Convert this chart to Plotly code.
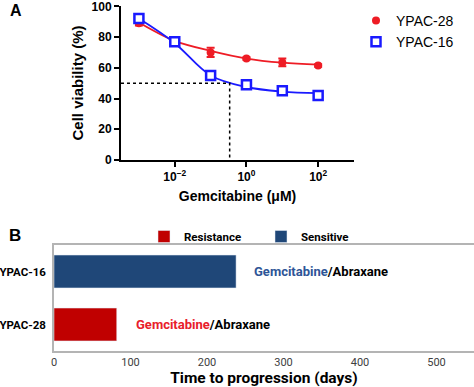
import plotly.graph_objects as go

# ---------------- Panel A data ----------------
conc_uM = [0.001, 0.01, 0.1, 1, 10, 100]
ypac28_mean = [89, 77, 70, 66, 63.5, 61.5]
ypac28_err = [1.5, 1.0, 3.0, 0.8, 2.5, 0.8]
ypac16_mean = [92, 77, 55, 49, 45, 42]
ypac16_err = [1.2, 1.5, 0.5, 1.2, 0.6, 0.6]
ypac28_fit = [89.5, 77.5, 71, 66, 63.3, 62]
ypac16_fit = [92, 76, 55, 47.5, 44.5, 43.5]
ic50_uM = 0.34
ic50_level = 50

# ---------------- Panel B data ----------------
lines_b = ["YPAC-28", "YPAC-16"]
resist_days = [82, None]
sensitive_days = [None, 238]

RED_A = "#ee1c25"
BLUE_A = "#1a1aff"
RED_B = "#c00000"
BLUE_B = "#1f4778"
FA = "Liberation Sans, Arial, sans-serif"
FB = "Roboto, sans-serif"

W, H = 474, 387

def px_x(p):
    return p / W

def px_y(p):
    return 1 - p / H

fig = go.Figure()

# fitted curves
fig.add_trace(go.Scatter(x=conc_uM, y=ypac28_fit, mode="lines", line=dict(color=RED_A, width=1.8, shape="spline"),
                         showlegend=False, hoverinfo="skip", xaxis="x", yaxis="y"))
fig.add_trace(go.Scatter(x=conc_uM, y=ypac16_fit, mode="lines", line=dict(color=BLUE_A, width=1.8, shape="spline"),
                         showlegend=False, hoverinfo="skip", xaxis="x", yaxis="y"))
# IC50 dotted guide lines
fig.add_trace(go.Scatter(x=[0.000316, ic50_uM, ic50_uM], y=[ic50_level, ic50_level, 0], mode="lines",
                         line=dict(color="black", width=1.5, dash="dot"), showlegend=False, hoverinfo="skip",
                         xaxis="x", yaxis="y"))
# data points
fig.add_trace(go.Scatter(x=conc_uM, y=ypac28_mean, mode="markers", name="YPAC-28",
                         marker=dict(color=RED_A, size=8, symbol="circle"),
                         error_y=dict(type="data", array=ypac28_err, color=RED_A, thickness=2, width=4),
                         xaxis="x", yaxis="y", legend="legend"))
fig.add_trace(go.Scatter(x=conc_uM, y=ypac16_mean, mode="markers", name="YPAC-16",
                         marker=dict(color="white", size=9, symbol="square",
                                     line=dict(color=BLUE_A, width=2.5)),
                         error_y=dict(type="data", array=ypac16_err, color=BLUE_A, thickness=2.5, width=4.5),
                         xaxis="x", yaxis="y", legend="legend"))

# Panel B bars
fig.add_trace(go.Bar(y=lines_b, x=resist_days, orientation="h", name="Resistance",
                     marker=dict(color=RED_B), width=0.62, xaxis="x2", yaxis="y2", legend="legend2"))
fig.add_trace(go.Bar(y=lines_b, x=sensitive_days, orientation="h", name="Sensitive",
                     marker=dict(color=BLUE_B), width=0.62, xaxis="x2", yaxis="y2", legend="legend2"))

fig.update_layout(
    width=W, height=H,
    margin=dict(l=0, r=0, t=0, b=0, autoexpand=False),
    paper_bgcolor="white", plot_bgcolor="white",
    barmode="overlay",
    font=dict(family=FA, color="black"),
    xaxis=dict(type="log", range=[-3.5, 3], domain=[px_x(121), px_x(354)], anchor="y", automargin=False,
               tickvals=[0.01, 1, 100], ticktext=["10<sup>\u22122</sup>", "10<sup>0</sup>", "10<sup>2</sup>"],
               showline=True, linecolor="black", linewidth=2, ticks="outside", ticklen=5, tickwidth=2,
               tickcolor="black", showgrid=False, zeroline=False,
               tickfont=dict(family=FA, size=12, color="black", weight="bold"),
               title=dict(text="Gemcitabine (\u03bcM)", font=dict(family=FA, size=14, weight="bold"), standoff=8)),
    yaxis=dict(range=[0, 100.2], domain=[px_y(160), px_y(6)], anchor="x", automargin=False,
               tickvals=[0, 20, 40, 60, 80, 100], ticklabeloverflow="allow",
               showline=True, linecolor="black", linewidth=2, ticks="outside", ticklen=5, tickwidth=2,
               tickcolor="black", showgrid=False, zeroline=False,
               tickfont=dict(family=FA, size=12, color="black", weight="bold"),
               title=dict(text="Cell viability (%)", font=dict(family=FA, size=15, weight="bold"), standoff=4)),
    xaxis2=dict(range=[0, 549], domain=[px_x(54), 1.0], anchor="y2", automargin=False,
                tickvals=[0, 100, 200, 300, 400, 500],
                showline=True, linecolor="#b4b4b4", linewidth=1.5, mirror=True, ticks="",
                showgrid=False, zeroline=False,
                tickfont=dict(family=FB, size=11, color="#404040"),
                title=dict(text="Time to progression (days)", font=dict(family=FB, size=15.5, weight="bold"), standoff=5)),
    yaxis2=dict(domain=[px_y(351), px_y(245)], anchor="x2", categoryorder="array", categoryarray=lines_b,
                automargin=False, ticklabeloverflow="allow",
                showline=True, linecolor="#b4b4b4", linewidth=1.5, ticks="", showgrid=False, zeroline=False,
                ticklabelstandoff=4,
                tickfont=dict(family=FB, size=11.5, color="black", weight="bold")),
    legend=dict(x=px_x(356), y=px_y(5), xanchor="left", yanchor="top", bgcolor="rgba(0,0,0,0)",
                font=dict(family=FA, size=14, color="black"), tracegroupgap=0, itemwidth=30),
    legend2=dict(orientation="h", x=px_x(144), y=px_y(222), xanchor="left", yanchor="top",
                 bgcolor="rgba(0,0,0,0)", entrywidth=72, entrywidthmode="pixels",
                 font=dict(family=FB, size=11.5, color="black", weight="bold")),
    annotations=[
        dict(text="<b>A</b>", x=px_x(8), y=px_y(10), xref="paper", yref="paper", showarrow=False,
             xanchor="left", yanchor="middle", font=dict(family=FA, size=16, color="black")),
        dict(text="<b>B</b>", x=px_x(7), y=px_y(235), xref="paper", yref="paper", showarrow=False,
             xanchor="left", yanchor="middle", font=dict(family=FA, size=17, color="black")),
        dict(text=f"<span style='color:#2e5597'>Gemcitabine</span>/Abraxane", x=259, y="YPAC-16",
             xref="x2", yref="y2", showarrow=False, xanchor="left", yanchor="middle",
             font=dict(family=FB, size=13, color="black", weight="bold")),
        dict(text=f"<span style='color:#e8202a'>Gemcitabine</span>/Abraxane", x=105, y="YPAC-28",
             xref="x2", yref="y2", showarrow=False, xanchor="left", yanchor="middle",
             font=dict(family=FB, size=13, color="black", weight="bold")),
    ],
)

fig.write_html("out.html", config={"displayModeBar": False},
               post_script="document.body.style.margin='0';document.body.style.overflow='hidden';")
